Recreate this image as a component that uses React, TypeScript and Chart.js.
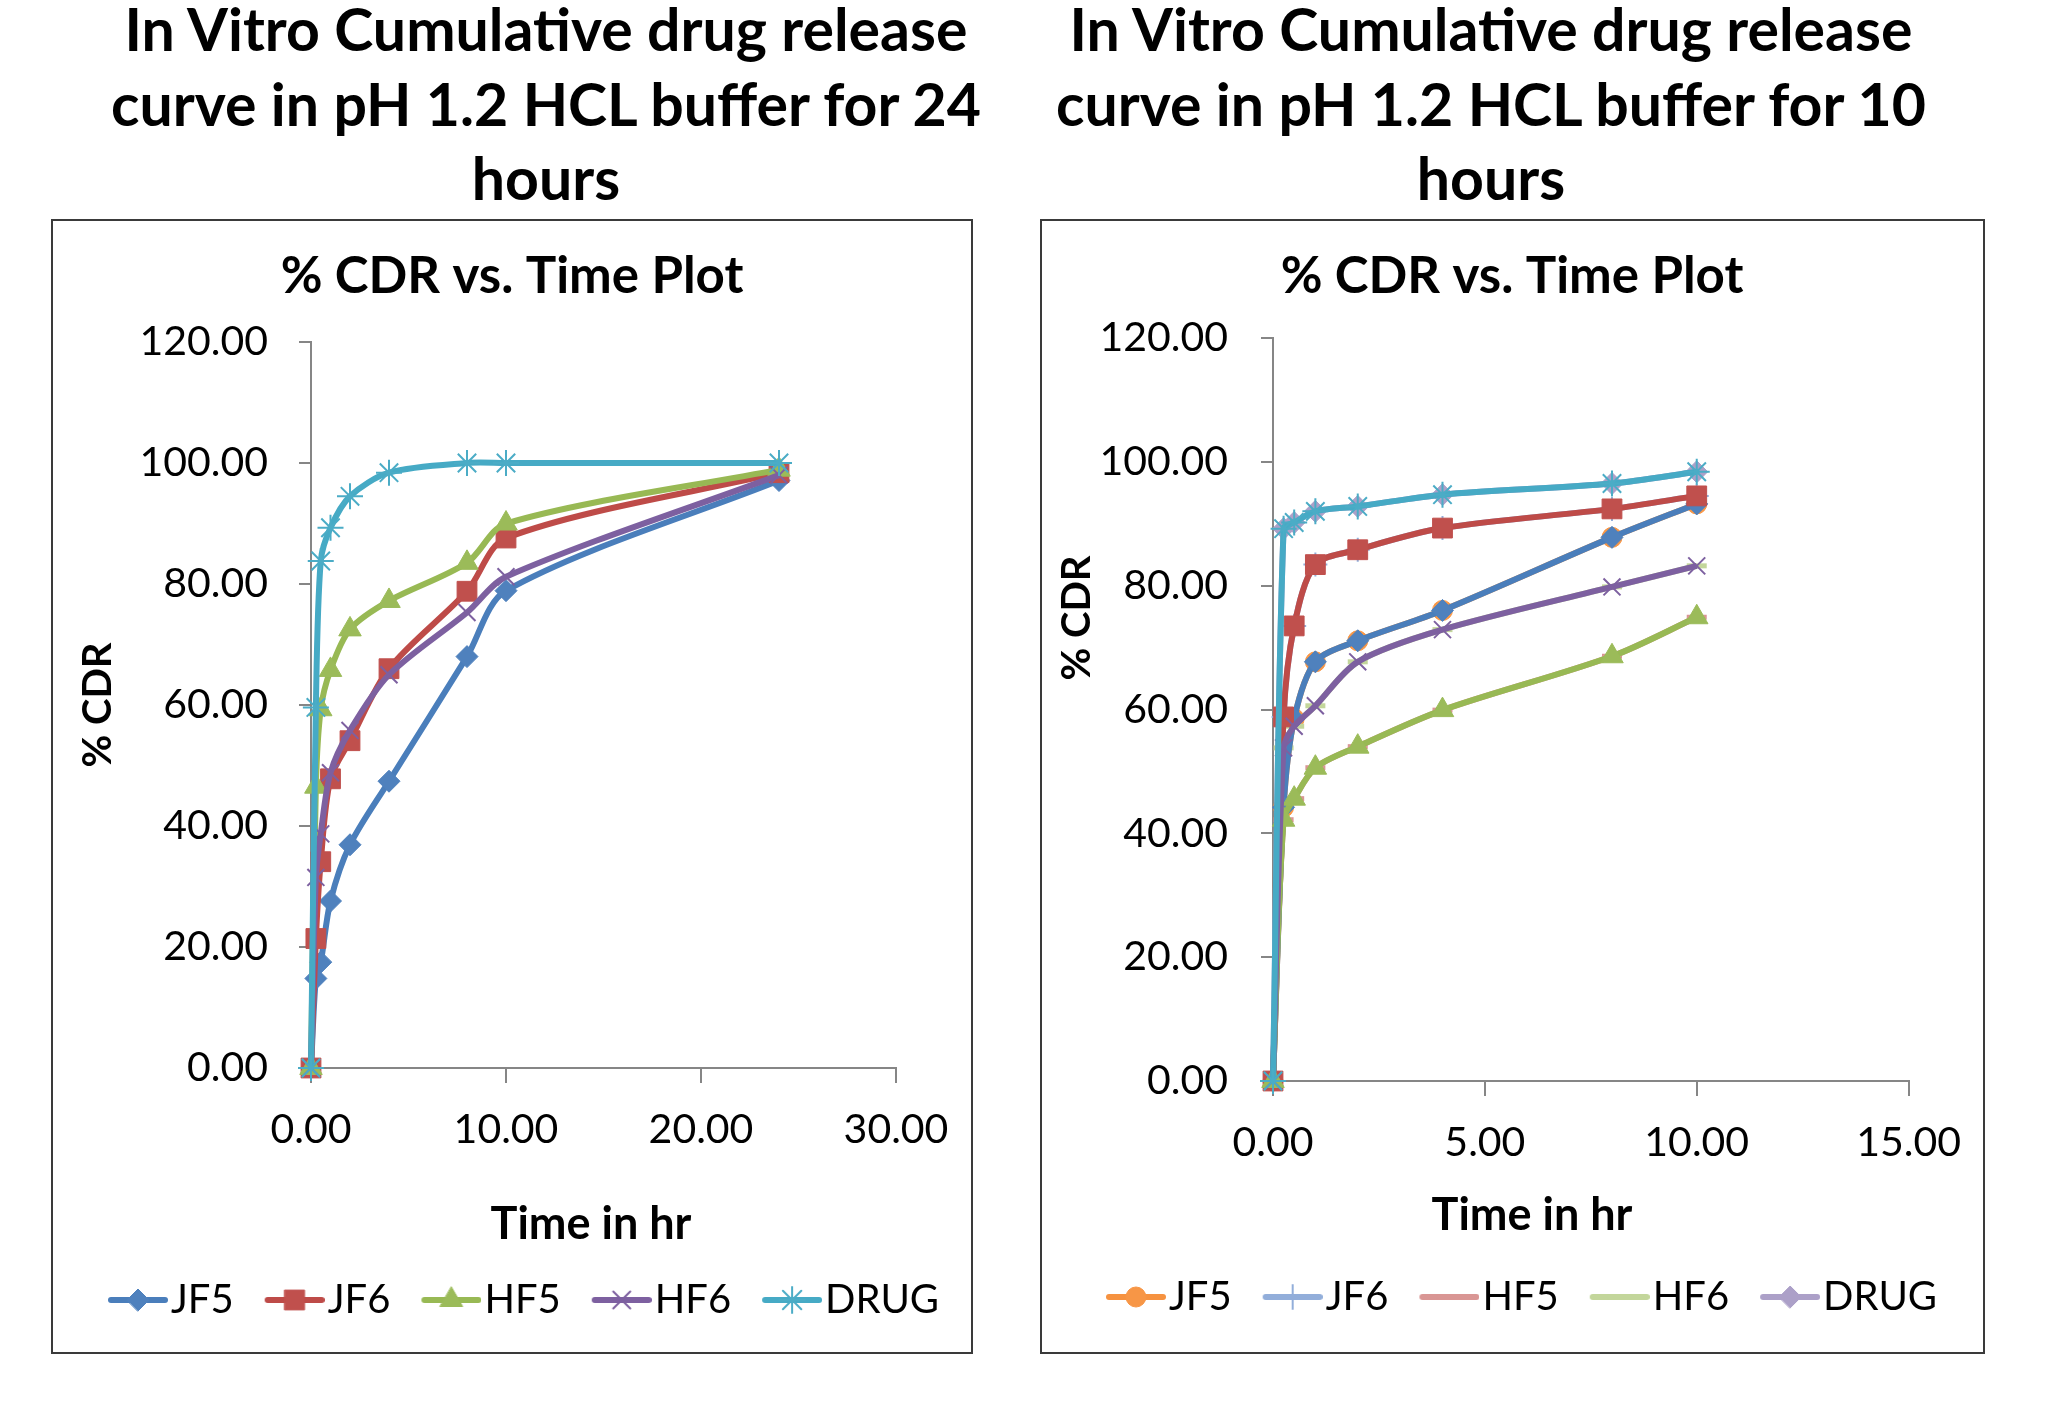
import React, { useEffect, useRef } from 'react';
import { Chart, registerables } from 'chart.js';
import { drawPoint } from 'chart.js/helpers';

Chart.register(...registerables);

// ---------- data ----------
const SERIES_NAMES = ['JF5', 'JF6', 'HF5', 'HF6', 'DRUG'];

const TIME_24 = [0, 0.25, 0.5, 1, 2, 4, 8, 10, 24];
const JF5_24 = [0, 14.8, 17.5, 27.6, 36.9, 47.4, 68.0, 78.9, 97.1];
const JF6_24 = [0, 21.4, 34.1, 47.8, 54.1, 66.0, 78.8, 87.6, 98.4];
const HF5_24 = [0, 46.5, 59.3, 65.8, 72.5, 77.2, 83.5, 90.0, 98.9];
const HF6_24 = [0, 31.5, 38.7, 48.8, 55.8, 65.0, 75.3, 81.2, 98.0];
const DRUG_24 = [0, 59.6, 83.8, 89.3, 94.5, 98.4, 100, 100, 100];

const TIME_10 = [0, 0.25, 0.5, 1, 2, 4, 8, 10];
const JF5_10 = [0, 44.2, 58.5, 67.7, 71.1, 76.0, 87.8, 93.2];
const JF6_10 = [0, 58.8, 73.5, 83.4, 85.8, 89.3, 92.4, 94.5];
const HF5_10 = [0, 42.2, 45.6, 50.6, 54.0, 59.9, 68.6, 74.9];
const HF6_10 = [0, 53.8, 57.3, 60.6, 67.7, 72.9, 79.8, 83.2];
const DRUG_10 = [0, 89.2, 90.2, 92.0, 92.8, 94.7, 96.5, 98.4];

const LEFT_TITLE = ['In Vitro Cumulative drug release', 'curve in pH 1.2 HCL buffer for 24', 'hours'];
const RIGHT_TITLE = ['In Vitro Cumulative drug release', 'curve in pH 1.2 HCL buffer for 10', 'hours'];
const PLOT_TITLE = '% CDR vs. Time Plot';
const X_TITLE = 'Time in hr';
const Y_TITLE = '% CDR';

const Y_MAX = 120;
const Y_STEP = 20;
const X_MAX_24 = 30;
const X_STEP_24 = 10;
const X_MAX_10 = 15;
const X_STEP_10 = 5;

// ---------- styles ----------
const FONT = 'Lato';
const AXIS_GRAY = '#868686';

type Sty = { line: string; fill: string; point: any; radius: number; pbw: number; lw: number };

const MAIN_STYLES: Sty[] = [
  { line: '#4A7EBB', fill: '#4F81BD', point: 'rectRot', radius: 11, pbw: 1, lw: 6 },
  { line: '#BE4B48', fill: '#C0504D', point: 'rect', radius: 14, pbw: 1, lw: 6 },
  { line: '#98B954', fill: '#9BBB59', point: 'triangle', radius: 13, pbw: 1, lw: 6 },
  { line: '#7D60A0', fill: '#7D60A0', point: 'crossRot', radius: 12, pbw: 2, lw: 6 },
  { line: '#46AAC5', fill: '#4BACC6', point: 'star', radius: 13, pbw: 2, lw: 6 },
];

const LEGEND_STYLES_10: Sty[] = [
  { line: '#F69240', fill: '#F79646', point: 'circle', radius: 10, pbw: 1, lw: 6 },
  { line: '#92AEDA', fill: '#92AEDA', point: 'cross', radius: 12, pbw: 2, lw: 6 },
  { line: '#D99694', fill: '#D99694', point: 'line', radius: 10, pbw: 5, lw: 6 },
  { line: '#C3D69B', fill: '#C3D69B', point: 'line', radius: 10, pbw: 5, lw: 6 },
  { line: '#ACA0C8', fill: '#ACA0C8', point: 'rectRot', radius: 11, pbw: 1, lw: 6 },
];

// legend swatch: line + marker, placed at the right side of the image
const SWATCH_W = 78;
const SWATCH_H = 30;
function legendImage(s: Sty): HTMLCanvasElement {
  const c = document.createElement('canvas');
  c.width = SWATCH_W;
  c.height = SWATCH_H;
  const g = c.getContext('2d') as CanvasRenderingContext2D;
  const x0 = SWATCH_W - 57;
  const x1 = SWATCH_W - 3;
  const cy = SWATCH_H / 2;
  g.strokeStyle = s.line;
  g.lineWidth = s.lw;
  g.lineCap = 'round';
  g.beginPath();
  g.moveTo(x0, cy);
  g.lineTo(x1, cy);
  g.stroke();
  g.fillStyle = s.fill;
  g.strokeStyle = s.fill;
  g.lineWidth = s.pbw;
  drawPoint(g as any, { pointStyle: s.point, radius: s.radius, rotation: 0, borderWidth: s.pbw } as any, (x0 + x1) / 2, cy);
  return c;
}

const textPlugin = {
  id: 'panelText',
  afterDraw(chart: any, _args: any, opts: any) {
    const ctx = chart.ctx as CanvasRenderingContext2D;
    (opts.items || []).forEach((it: any) => {
      ctx.save();
      ctx.font = it.font;
      ctx.fillStyle = '#000';
      ctx.textAlign = 'center';
      ctx.textBaseline = 'middle';
      ctx.translate(it.x, it.y);
      if (it.rotate) ctx.rotate(it.rotate);
      ctx.fillText(it.text, 0, 0);
      ctx.restore();
    });
  },
};

type PanelCfg = {
  time: number[];
  series: number[][];
  legendSeries?: number[][];
  xMax: number;
  xStep: number;
  padLeft: number;
  yWidth: number;
  rightW: number;
  xHeight: number;
  padTop: number;
  padBottom: number;
  yTickPad: number;
  texts: any[];
};

function makeDataset(label: string, time: number[], vals: number[], s: Sty, order: number) {
  return {
    label,
    data: time.map((t, i) => ({ x: t, y: vals[i] })),
    borderColor: s.line,
    backgroundColor: s.fill,
    borderWidth: s.lw,
    pointStyle: s.point,
    pointRadius: s.radius,
    pointHoverRadius: s.radius,
    pointBackgroundColor: s.fill,
    pointBorderColor: s.fill,
    pointBorderWidth: s.pbw,
    tension: 0.3,
    fill: false,
    clip: false as any,
    order,
  };
}

function buildChart(canvas: HTMLCanvasElement, cfg: PanelCfg) {
  const datasets: any[] = cfg.series.map((vals, i) =>
    makeDataset(SERIES_NAMES[i], cfg.time, vals, MAIN_STYLES[i], 4 - i)
  );
  let legendDefs: { name: string; img: HTMLCanvasElement; index: number }[];
  if (cfg.legendSeries) {
    cfg.legendSeries.forEach((vals, i) => {
      datasets.push(makeDataset(SERIES_NAMES[i], cfg.time, vals, LEGEND_STYLES_10[i], 20 - i));
    });
    legendDefs = SERIES_NAMES.map((n, i) => ({ name: n, img: legendImage(LEGEND_STYLES_10[i]), index: 5 + i }));
  } else {
    legendDefs = SERIES_NAMES.map((n, i) => ({ name: n, img: legendImage(MAIN_STYLES[i]), index: i }));
  }

  const tickFont = { family: FONT, size: 41 };
  return new Chart(canvas, {
    type: 'line',
    data: { datasets },
    plugins: [textPlugin],
    options: {
      animation: false,
      responsive: false,
      devicePixelRatio: 1,
      events: [],
      layout: { padding: { left: cfg.padLeft, right: 0, top: cfg.padTop, bottom: cfg.padBottom } },
      scales: {
        x: {
          type: 'linear',
          position: 'bottom',
          min: 0,
          max: cfg.xMax,
          ticks: {
            stepSize: cfg.xStep,
            color: '#000',
            font: tickFont,
            padding: 22,
            maxRotation: 0,
            callback: (v: any) => Number(v).toFixed(2),
          },
          grid: { drawOnChartArea: false, drawTicks: true, tickLength: 15, color: AXIS_GRAY, lineWidth: 2 },
          border: { display: true, color: AXIS_GRAY, width: 2 },
          afterFit: (s: any) => {
            s.height = cfg.xHeight;
          },
        },
        y: {
          type: 'linear',
          position: 'left',
          min: 0,
          max: Y_MAX,
          ticks: {
            stepSize: Y_STEP,
            color: '#000',
            font: tickFont,
            padding: cfg.yTickPad,
            callback: (v: any) => Number(v).toFixed(2),
          },
          grid: { drawOnChartArea: false, drawTicks: true, tickLength: 12, color: AXIS_GRAY, lineWidth: 2 },
          border: { display: true, color: AXIS_GRAY, width: 2 },
          afterFit: (s: any) => {
            s.width = cfg.yWidth;
          },
        },
        yPad: {
          type: 'linear',
          position: 'right',
          display: true,
          grid: { display: false },
          ticks: { display: false },
          border: { display: false },
          afterFit: (s: any) => {
            s.width = cfg.rightW;
          },
        },
      } as any,
      plugins: {
        title: { display: false },
        tooltip: { enabled: false },
        legend: {
          display: true,
          position: 'bottom',
          labels: {
            usePointStyle: true,
            pointStyleWidth: 44,
            color: '#000',
            font: { family: FONT, size: 40 },
            padding: 30,
            generateLabels: () =>
              legendDefs.map((d) => ({
                text: d.name,
                pointStyle: d.img as any,
                fillStyle: 'rgba(0,0,0,0)',
                strokeStyle: 'rgba(0,0,0,0)',
                lineWidth: 0,
                hidden: false,
                datasetIndex: d.index,
                fontColor: '#000',
              })),
          },
        },
        panelText: { items: cfg.texts },
      } as any,
    },
  });
}

const LEFT_CFG: PanelCfg = {
  time: TIME_24,
  series: [JF5_24, JF6_24, HF5_24, HF6_24, DRUG_24],
  xMax: X_MAX_24,
  xStep: X_STEP_24,
  padLeft: 22,
  yWidth: 236,
  rightW: 75,
  xHeight: 182,
  padTop: 121,
  padBottom: 22,
  yTickPad: 31,
  texts: [
    { text: PLOT_TITLE, x: 459, y: 56, font: `bold 51px ${FONT}` },
    { text: X_TITLE, x: 538, y: 1003, font: `bold 45px ${FONT}` },
    { text: Y_TITLE, x: 45, y: 484, font: `bold 40px ${FONT}`, rotate: -Math.PI / 2 },
  ],
};

const RIGHT_CFG: PanelCfg = {
  time: TIME_10,
  series: [JF5_10, JF6_10, HF5_10, HF6_10, DRUG_10],
  legendSeries: [JF5_10, JF6_10, HF5_10, HF6_10, DRUG_10],
  xMax: X_MAX_10,
  xStep: X_STEP_10,
  padLeft: 17,
  yWidth: 214,
  rightW: 72,
  xHeight: 166,
  padTop: 117,
  padBottom: 25,
  yTickPad: 33,
  texts: [
    { text: PLOT_TITLE, x: 470, y: 56, font: `bold 51px ${FONT}` },
    { text: X_TITLE, x: 490, y: 994, font: `bold 45px ${FONT}` },
    { text: Y_TITLE, x: 35, y: 397, font: `bold 40px ${FONT}`, rotate: -Math.PI / 2 },
  ],
};

const titleStyle = (centerX: number): React.CSSProperties => ({
  position: 'absolute',
  left: centerX - 520,
  top: -8,
  width: 1040,
  textAlign: 'center',
  fontFamily: FONT,
  fontWeight: 700,
  fontSize: 59,
  lineHeight: '74.5px',
  color: '#000',
  whiteSpace: 'nowrap',
});

const frameStyle = (left: number, width: number): React.CSSProperties => ({
  position: 'absolute',
  left,
  top: 219,
  width,
  height: 1135,
  border: '2px solid #3a3a3a',
  boxSizing: 'border-box',
  background: '#fff',
});

export default function App() {
  const leftRef = useRef<HTMLCanvasElement>(null);
  const rightRef = useRef<HTMLCanvasElement>(null);

  useEffect(() => {
    const charts: Chart[] = [];
    if (leftRef.current) charts.push(buildChart(leftRef.current, LEFT_CFG));
    if (rightRef.current) charts.push(buildChart(rightRef.current, RIGHT_CFG));
    return () => charts.forEach((c) => c.destroy());
  }, []);

  return (
    <div style={{ position: 'fixed', left: 0, top: 0, width: 2048, height: 1418, background: '#fff', overflow: 'hidden' }}>
      <div style={titleStyle(546)}>
        {LEFT_TITLE.map((l, i) => (
          <div key={i}>{l}</div>
        ))}
      </div>
      <div style={titleStyle(1491)}>
        {RIGHT_TITLE.map((l, i) => (
          <div key={i}>{l}</div>
        ))}
      </div>
      <div style={frameStyle(51, 922)}>
        <canvas ref={leftRef} width={918} height={1131} style={{ display: 'block' }} />
      </div>
      <div style={frameStyle(1040, 945)}>
        <canvas ref={rightRef} width={941} height={1131} style={{ display: 'block' }} />
      </div>
    </div>
  );
}
